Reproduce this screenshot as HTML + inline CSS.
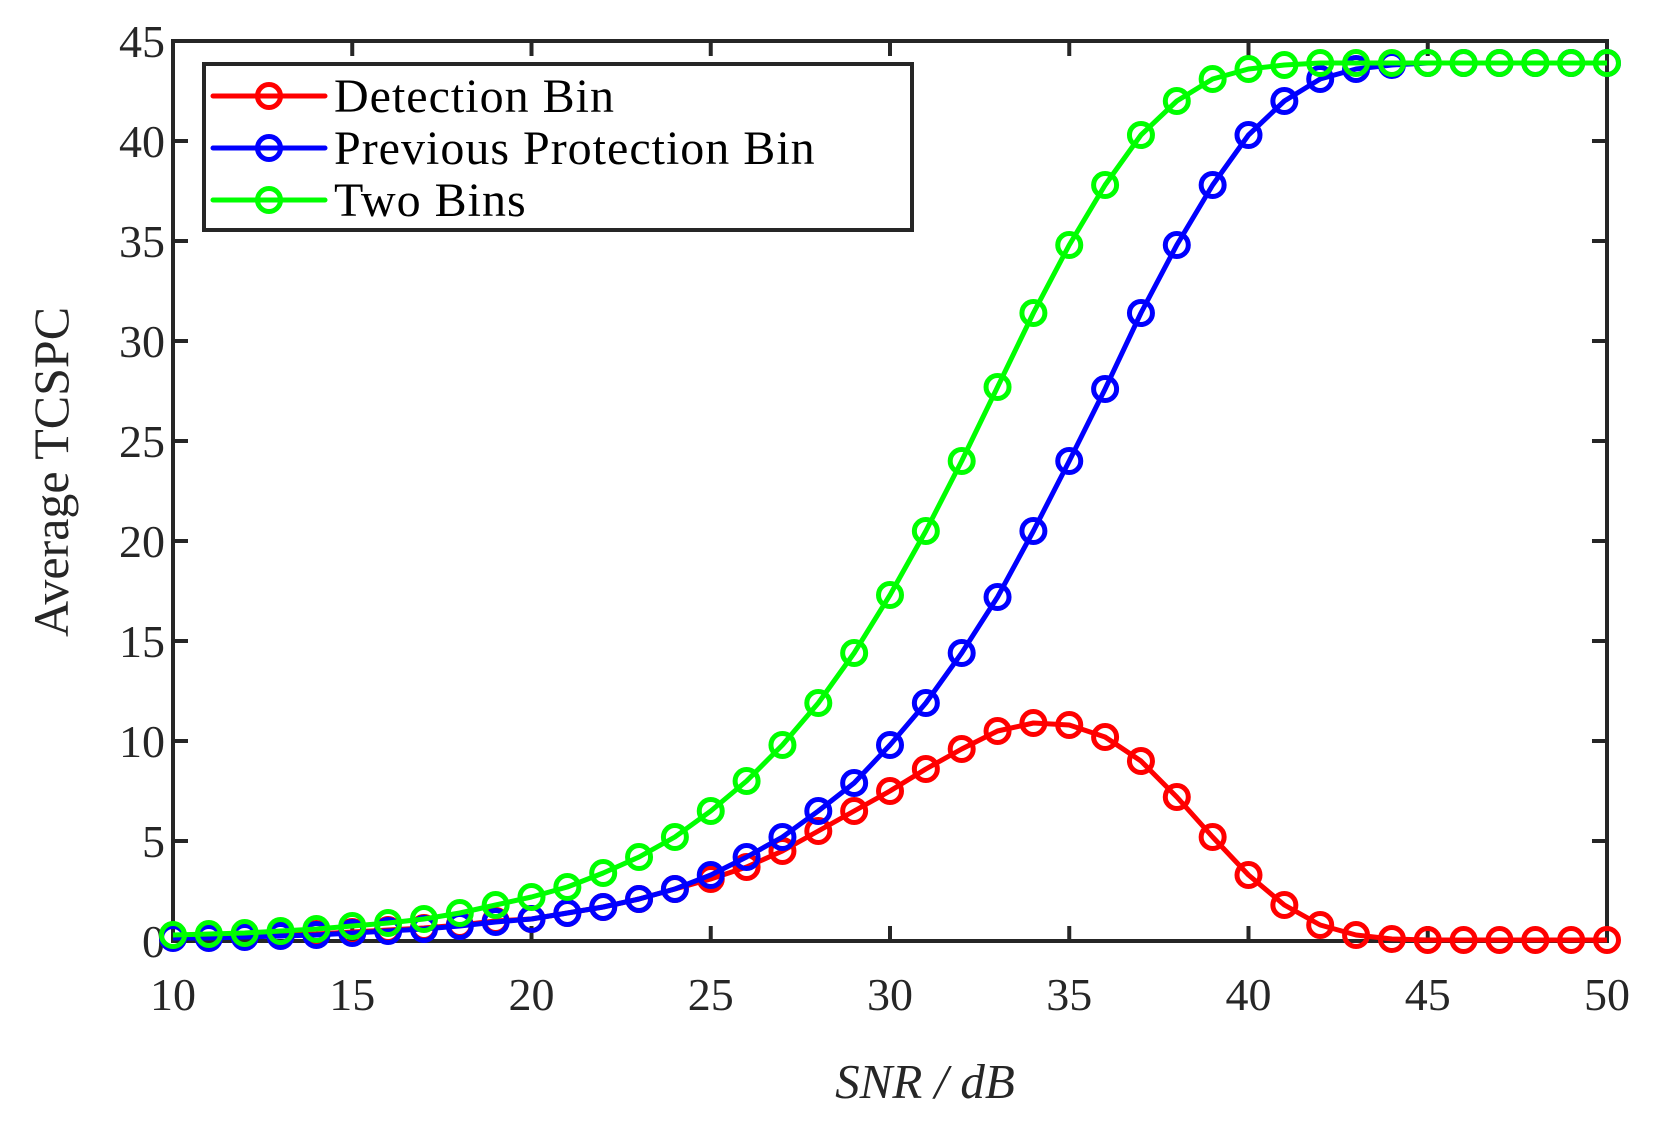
<!DOCTYPE html>
<html><head><meta charset="utf-8"><style>
html,body{margin:0;padding:0;background:#fff;}
svg{display:block;font-family:"Liberation Serif",serif;}
</style></head><body>
<svg id="chart" width="1668" height="1125" viewBox="0 0 1668 1125" xmlns="http://www.w3.org/2000/svg"></svg>
<script>
const xValues = [10,11,12,13,14,15,16,17,18,19,20,21,22,23,24,25,26,27,28,29,30,31,32,33,34,35,36,37,38,39,40,41,42,43,44,45,46,47,48,49,50];
const detectionBin = [0.2,0.2,0.25,0.3,0.35,0.45,0.55,0.65,0.8,1.0,1.1,1.4,1.7,2.1,2.6,3.1,3.7,4.5,5.5,6.5,7.5,8.6,9.6,10.5,10.9,10.8,10.2,9.0,7.2,5.2,3.3,1.8,0.8,0.3,0.1,0.05,0.05,0.05,0.05,0.05,0.05];
const previousBin = [0.15,0.15,0.2,0.25,0.3,0.4,0.5,0.6,0.75,0.95,1.1,1.4,1.7,2.1,2.6,3.3,4.2,5.2,6.5,7.9,9.8,11.9,14.4,17.2,20.5,24.0,27.6,31.4,34.8,37.8,40.3,42.0,43.1,43.6,43.8,43.9,43.9,43.9,43.9,43.9,43.9];
const twoBins = [0.3,0.35,0.4,0.5,0.6,0.75,0.9,1.1,1.4,1.8,2.2,2.7,3.4,4.2,5.2,6.5,8.0,9.8,11.9,14.4,17.3,20.5,24.0,27.7,31.4,34.8,37.8,40.3,42.0,43.1,43.6,43.8,43.9,43.9,43.9,43.9,43.9,43.9,43.9,43.9,43.9];
const xTicks = [10,15,20,25,30,35,40,45,50];
const yTicks = [0,5,10,15,20,25,30,35,40,45];
const seriesNames = ["Detection Bin","Previous Protection Bin","Two Bins"];

const L=173,R=1607,T=41,B=941;
const xs=v=>L+(v-10)/40*(R-L);
const ys=v=>B-v/45*(B-T);
const svg=document.getElementById('chart');
const NS='http://www.w3.org/2000/svg';
function mk(tag,attrs,parent){const e=document.createElementNS(NS,tag);for(const k in attrs)e.setAttribute(k,attrs[k]);(parent||svg).appendChild(e);return e;}
const ax='#262626';
xTicks.forEach(t=>{
  const g=mk('g',{});
  
  
  mk('line',{x1:xs(t),x2:xs(t),y1:B,y2:B-15,stroke:ax,'stroke-width':4},g);
  mk('line',{x1:xs(t),x2:xs(t),y1:T,y2:T+15,stroke:ax,'stroke-width':4},g);
  const tx=mk('text',{x:xs(t),y:B+69,'text-anchor':'middle','font-size':46,fill:ax},g);
  tx.textContent=t;
});
yTicks.forEach(t=>{
  const g=mk('g',{});
  
  
  mk('line',{x1:L,x2:L+15,y1:ys(t),y2:ys(t),stroke:ax,'stroke-width':4},g);
  mk('line',{x1:R,x2:R-15,y1:ys(t),y2:ys(t),stroke:ax,'stroke-width':4},g);
  const tx=mk('text',{x:L-8,y:ys(t)+16,'text-anchor':'end','font-size':46,fill:ax},g);
  tx.textContent=t;
});
const frame=mk('rect',{x:L,y:T,width:R-L,height:B-T,fill:'none',stroke:ax,'stroke-width':4});


const series=[[detectionBin,'#ff0000'],[previousBin,'#0000ff'],[twoBins,'#00ff00']];
series.forEach((s,i)=>{
  const g=mk('g',{});
  
  
  const pts=xValues.map((x,j)=>xs(x)+','+ys(s[0][j])).join(' ');
  mk('polyline',{points:pts,fill:'none',stroke:s[1],'stroke-width':5,'stroke-linejoin':'round'},g);
  xValues.forEach((x,j)=>{
    const c=mk('circle',{cx:xs(x),cy:ys(s[0][j]),r:11.5,fill:'none',stroke:s[1],'stroke-width':5},g);
    
    
  });
});
const lg=mk('g',{});


mk('rect',{x:204,y:64,width:708,height:166,fill:'#fff',stroke:ax,'stroke-width':4},lg);
series.forEach((s,i)=>{
  const y=96+i*52;
  const e=mk('g',{},lg);
  
  
  mk('line',{x1:213,x2:325,y1:y,y2:y,stroke:s[1],'stroke-width':5,'stroke-linecap':'round'},e);
  mk('circle',{cx:269,cy:y,r:11.5,fill:'none',stroke:s[1],'stroke-width':5},e);
  const t=mk('text',{x:334,y:y+16,'font-size':48,'letter-spacing':1,fill:'#000'},e);
  t.textContent=seriesNames[i];
});
const yl=mk('text',{x:0,y:0,transform:'translate(68,472) rotate(-90)','text-anchor':'middle','font-size':50,fill:ax});
yl.textContent='Average TCSPC';


const xl=mk('text',{x:925,y:1098,'text-anchor':'middle','font-size':49,'font-style':'italic',fill:ax});
xl.textContent='SNR / dB';


</script>
</body></html>
